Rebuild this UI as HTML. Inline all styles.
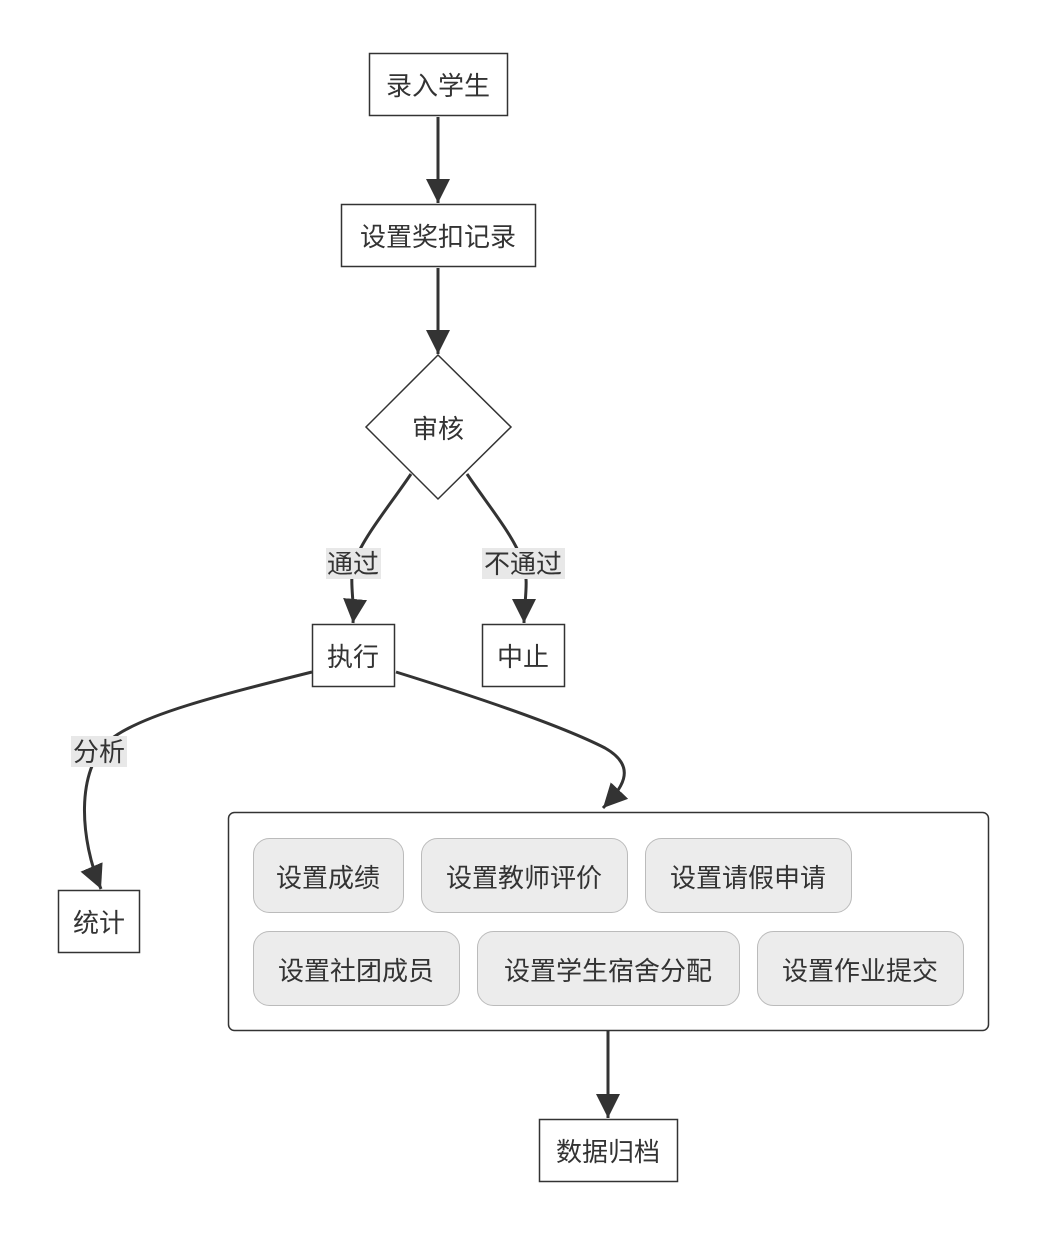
<!DOCTYPE html>
<html><head><meta charset="utf-8"><style>
body{margin:0;background:#fff;}
text{font-family:"Liberation Sans","Noto Sans CJK SC",sans-serif;font-size:26px;fill:#333;}
</style></head><body>
<svg width="1046" height="1239" viewBox="0 0 1046 1239" xmlns="http://www.w3.org/2000/svg">
<defs><marker id="a" viewBox="0 0 10 10" refX="9" refY="5" markerWidth="7" markerHeight="7" orient="auto" markerUnits="userSpaceOnUse"><path d="M0,0L10,5L0,10z" fill="#333"/></marker>
<marker id="b" viewBox="0 0 10 10" refX="10" refY="5" markerWidth="24" markerHeight="24" orient="auto" markerUnits="userSpaceOnUse"><path d="M0,0L10,5L0,10z" fill="#333"/></marker></defs>
<g fill="none" stroke="#333" stroke-width="3">
<path d="M438,117 L438,203" marker-end="url(#b)"/>
<path d="M438,268 C438,300 438,330 438,354" marker-end="url(#b)"/>
<path d="M411,474 C390,505 365,535 355,560 C348,580 355,600 353,623" marker-end="url(#b)"/>
<path d="M467,474 C488,505 513,535 522,560 C530,580 524,600 524,623" marker-end="url(#b)"/>
<path d="M312,672 C220,695 140,715 110,740 C75,770 80,840 101,889" marker-end="url(#b)"/>
<path d="M396,672 C470,695 560,725 605,748 C640,768 620,790 603,808" marker-end="url(#b)"/>
<path d="M608,1031 L608,1118" marker-end="url(#b)"/>
</g>
<g fill="#fff" stroke="#333" stroke-width="1.5">
<rect x="369.5" y="53.5" width="138" height="62"/>
<rect x="341.5" y="204.5" width="194" height="62"/>
<polygon points="438,355 511,427 438,499 366,427"/>
<rect x="312.5" y="624.5" width="82" height="62"/>
<rect x="482.5" y="624.5" width="82" height="62"/>
<rect x="58.5" y="890.5" width="81" height="62"/>
<rect x="228.5" y="812.5" width="760" height="218" rx="6"/>
<rect x="539.5" y="1119.5" width="138" height="62"/>
</g>
<g fill="#e8e8e8">
<rect x="326" y="548" width="55" height="31"/>
<rect x="482" y="548" width="83" height="31"/>
<rect x="71" y="736" width="56" height="31"/>
</g>
<g fill="#ececec" stroke="#bbb" stroke-width="1">
<rect x="253.5" y="838.5" width="150" height="74" rx="16"/>
<rect x="421.5" y="838.5" width="206" height="74" rx="16"/>
<rect x="645.5" y="838.5" width="206" height="74" rx="16"/>
<rect x="253.5" y="931.5" width="206" height="74" rx="16"/>
<rect x="477.5" y="931.5" width="262" height="74" rx="16"/>
<rect x="757.5" y="931.5" width="206" height="74" rx="16"/>
</g>
<g text-anchor="middle">
<text x="438" y="95">录入学生</text>
<text x="438" y="246">设置奖扣记录</text>
<text x="438" y="438">审核</text>
<text x="353" y="573">通过</text>
<text x="523" y="573">不通过</text>
<text x="353" y="666">执行</text>
<text x="523" y="666">中止</text>
<text x="99" y="761">分析</text>
<text x="99" y="932">统计</text>
<text x="328" y="887">设置成绩</text>
<text x="524" y="887">设置教师评价</text>
<text x="748" y="887">设置请假申请</text>
<text x="356" y="980">设置社团成员</text>
<text x="608" y="980">设置学生宿舍分配</text>
<text x="860" y="980">设置作业提交</text>
<text x="608" y="1161">数据归档</text>
</g>
</svg>
</body></html>
